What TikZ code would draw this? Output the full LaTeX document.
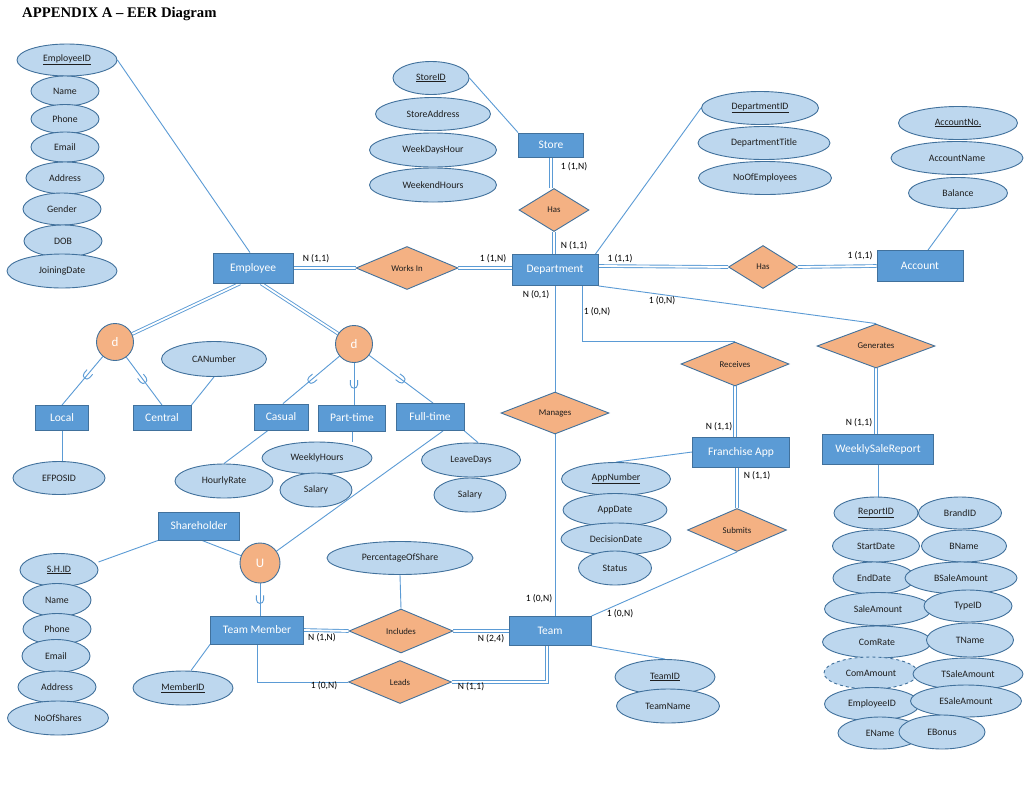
\documentclass[tikz,border=0pt]{standalone}
\usepackage{fontspec}
\setmainfont{Carlito}
\newfontfamily\titlefont{Liberation Serif}
\usetikzlibrary{shapes.geometric,backgrounds,calc}
\definecolor{entfill}{HTML}{5B9BD5}
\definecolor{entborder}{HTML}{41719C}
\definecolor{attrfill}{HTML}{BDD7EE}
\definecolor{attrborder}{HTML}{41719C}
\definecolor{relfill}{HTML}{F4B183}
\definecolor{relborder}{HTML}{41719C}
\definecolor{lineblue}{HTML}{5B9BD5}
\definecolor{textdark}{HTML}{1E1E1E}
\begin{document}
\begin{tikzpicture}[x=1pt,y=-1pt,
  ent/.style={rectangle, draw=entborder, line width=0.9pt, fill=entfill, text=white, inner sep=0, font=\fontsize{11.5}{12}\selectfont},
  attr/.style={ellipse, draw=attrborder, line width=0.9pt, fill=attrfill, text=textdark, inner sep=0, font=\fontsize{9.8}{10}\selectfont},
  rel/.style={diamond, draw=relborder, line width=0.9pt, fill=relfill, text=textdark, inner sep=0, font=\fontsize{8.8}{9}\selectfont},
  dcirc/.style={circle, draw=relborder, line width=0.9pt, fill=relfill, text=white, inner sep=0, font=\fontsize{13}{13}\selectfont},
  conn/.style={draw=lineblue, line width=0.9pt},
  dbl/.style={draw=lineblue, line width=0.9pt, double=white, double distance=1.8pt},
  card/.style={inner sep=0, text=black, font=\fontsize{9.6}{10}\selectfont},
  subsym/.pic={\draw[lineblue, line width=0.9pt] (-4.5,-3.6) -- (0,-3.6) .. controls (4.8,-3.6) and (4.8,3.6) .. (0,3.6) -- (-4.5,3.6);}
]
\useasboundingbox (0,0) rectangle (1034,788);

% title
\node[anchor=base west, inner sep=0, font=\titlefont\bfseries\fontsize{14.7}{15}\selectfont] (title) at (22,17) {APPENDIX A – EER Diagram};

% Employee attributes
\node[attr, minimum width=100, minimum height=32] (eid) at (67,60) {\underline{EmployeeID}};
\node[attr, minimum width=68, minimum height=30] (ename) at (65,91) {Name};
\node[attr, minimum width=68, minimum height=29] (ephone) at (65,119) {Phone};
\node[attr, minimum width=68, minimum height=30] (eemail) at (65,147) {Email};
\node[attr, minimum width=78, minimum height=32] (eaddr) at (65,178) {Address};
\node[attr, minimum width=78, minimum height=32] (egender) at (62,209) {Gender};
\node[attr, minimum width=78, minimum height=32] (edob) at (63,241) {DOB};
\node[attr, minimum width=110, minimum height=34] (ejoin) at (62,271) {JoiningDate};

% Store attributes
\node[attr, minimum width=76, minimum height=33] (storeid) at (431,78) {\underline{StoreID}};
\node[attr, minimum width=115, minimum height=33] (staddr) at (433,114) {StoreAddress};
\node[attr, minimum width=127, minimum height=34] (wdh) at (433,150) {WeekDaysHour};
\node[attr, minimum width=127, minimum height=34] (weh) at (433,185) {WeekendHours};

% Department attributes
\node[attr, minimum width=117, minimum height=33] (deptid) at (760,108) {\underline{DepartmentID}};
\node[attr, minimum width=132, minimum height=33] (dtitle) at (764,143) {DepartmentTitle};
\node[attr, minimum width=133, minimum height=33] (noe) at (765,178) {NoOfEmployees};

% Account attributes
\node[attr, minimum width=119, minimum height=33] (accno) at (958,123) {\underline{AccountNo.}};
\node[attr, minimum width=132, minimum height=33] (accname) at (957,158) {AccountName};
\node[attr, minimum width=99, minimum height=31] (bal) at (958,193) {Balance};

% Entities
\node[ent, minimum width=80, minimum height=30] (emp) at (253,268) {Employee};
\node[ent, minimum width=86, minimum height=31] (dept) at (555,270) {Department};
\node[ent, minimum width=65, minimum height=24] (store) at (551,145) {Store};
\node[ent, minimum width=86, minimum height=31] (acct) at (920,266) {Account};
\node[ent, minimum width=97, minimum height=30] (fa) at (741,452) {Franchise App};
\node[ent, minimum width=111, minimum height=30] (wsr) at (878,449) {WeeklySaleReport};
\node[ent, minimum width=53, minimum height=25] (local) at (62,418) {Local};
\node[ent, minimum width=58, minimum height=25] (central) at (162,418) {Central};
\node[ent, minimum width=54, minimum height=26] (casual) at (281,417) {Casual};
\node[ent, minimum width=67, minimum height=26] (pt) at (352,418) {Part-time};
\node[ent, minimum width=68, minimum height=27] (ft) at (430,417) {Full-time};
\node[ent, minimum width=81, minimum height=28] (sh) at (199,526) {Shareholder};
\node[ent, minimum width=93, minimum height=28] (tm) at (257,630) {Team Member};
\node[ent, minimum width=82, minimum height=29] (team) at (550,631) {Team};

% Relationships
\node[rel, minimum width=102, minimum height=43] (works) at (407,268) {Works In};
\node[rel, minimum width=70, minimum height=43] (hasS) at (554,210) {Has};
\node[rel, minimum width=69, minimum height=43] (hasA) at (763,267) {Has};
\node[rel, minimum width=108, minimum height=42] (man) at (555,413) {Manages};
\node[rel, minimum width=108, minimum height=44] (rec) at (735,364) {Receives};
\node[rel, minimum width=118, minimum height=44] (gen) at (876,346) {Generates};
\node[rel, minimum width=99, minimum height=43] (sub) at (737,530) {Submits};
\node[rel, minimum width=104, minimum height=44] (incl) at (401,631) {Includes};
\node[rel, minimum width=103, minimum height=43] (leads) at (400,682) {Leads};

% Specialisation circles
\node[dcirc, minimum size=37] (d1) at (115,342) {d};
\node[dcirc, minimum size=37] (d2) at (354,344) {d};
\node[dcirc, minimum size=40] (ucirc) at (260,563) {U};

% Subclass attributes
\node[attr, minimum width=105, minimum height=35] (canum) at (214,359) {CANumber};
\node[attr, minimum width=92, minimum height=33] (efpos) at (59,478) {EFPOSID};
\node[attr, minimum width=98, minimum height=34] (hourly) at (224,481) {HourlyRate};
\node[attr, minimum width=110, minimum height=32] (wh) at (317,458) {WeeklyHours};
\node[attr, minimum width=72, minimum height=34] (sal1) at (316,490) {Salary};
\node[attr, minimum width=99, minimum height=34] (leave) at (471,460) {LeaveDays};
\node[attr, minimum width=72, minimum height=34] (sal2) at (470,495) {Salary};

% Franchise App attributes
\node[attr, minimum width=109, minimum height=33] (appnum) at (616,479) {\underline{AppNumber}};
\node[attr, minimum width=104, minimum height=33] (appdate) at (615,510) {AppDate};
\node[attr, minimum width=110, minimum height=32] (decdate) at (616,539) {DecisionDate};
\node[attr, minimum width=73, minimum height=34] (status) at (615,568) {Status};

% Shareholder attributes
\node[attr, minimum width=78, minimum height=33] (shid) at (59,570) {\underline{S.H.ID}};
\node[attr, minimum width=68, minimum height=33] (shname) at (57,600) {Name};
\node[attr, minimum width=68, minimum height=31] (shphone) at (57,629) {Phone};
\node[attr, minimum width=68, minimum height=33] (shemail) at (56,656) {Email};
\node[attr, minimum width=78, minimum height=32] (shaddr) at (57,687) {Address};
\node[attr, minimum width=101, minimum height=34] (noshares) at (58,718) {NoOfShares};

% Team member / team attributes
\node[attr, minimum width=100, minimum height=34] (memid) at (183,688) {\underline{MemberID}};
\node[attr, minimum width=146, minimum height=33] (pos) at (400,558) {PercentageOfShare};
\node[attr, minimum width=100, minimum height=35] (teamid) at (665,677) {\underline{TeamID}};
\node[attr, minimum width=103, minimum height=34] (teamname) at (668,706) {TeamName};

% Weekly sale report attributes
\node[attr, minimum width=84, minimum height=32] (rid) at (876,513) {\underline{ReportID}};
\node[attr, minimum width=83, minimum height=32] (brand) at (960,513) {BrandID};
\node[attr, minimum width=87, minimum height=32] (start) at (876,546) {StartDate};
\node[attr, minimum width=85, minimum height=32] (bname) at (964,546) {BName};
\node[attr, minimum width=82, minimum height=32] (enddate) at (874,578) {EndDate};
\node[attr, minimum width=112, minimum height=32] (bsale) at (961,578) {BSaleAmount};
\node[attr, minimum width=107, minimum height=33] (saleamt) at (878,609) {SaleAmount};
\node[attr, minimum width=88, minimum height=32] (typeid) at (968,606) {TypeID};
\node[attr, minimum width=109, minimum height=32] (comrate) at (877,642) {ComRate};
\node[attr, minimum width=87, minimum height=34] (tname) at (970,640) {TName};
\node[attr, dashed, minimum width=94, minimum height=32] (comamt) at (871,673) {ComAmount};
\node[attr, minimum width=110, minimum height=32] (tsale) at (968,674) {TSaleAmount};
\node[attr, minimum width=95, minimum height=33] (empid2) at (872,704) {EmployeeID};
\node[attr, minimum width=111, minimum height=32] (esale) at (966,701) {ESaleAmount};
\node[attr, minimum width=84, minimum height=32] (ename2) at (880,733) {EName};
\node[attr, minimum width=86, minimum height=34] (ebonus) at (942,732) {EBonus};

% Cardinalities
\node[card] (c1) at (316,259) {N (1,1)};
\node[card] (c2) at (493,259) {1 (1,N)};
\node[card] (c3) at (574,167) {1 (1,N)};
\node[card] (c4) at (574,246) {N (1,1)};
\node[card] (c5) at (620,259) {1 (1,1)};
\node[card] (c6) at (860,256) {1 (1,1)};
\node[card] (c7) at (536,295) {N (0,1)};
\node[card] (c8) at (597,312) {1 (0,N)};
\node[card] (c9) at (662,301) {1 (0,N)};
\node[card] (c10) at (719,427) {N (1,1)};
\node[card] (c11) at (757,476) {N (1,1)};
\node[card] (c12) at (859,423) {N (1,1)};
\node[card] (c13) at (539,599) {1 (0,N)};
\node[card] (c14) at (620,614) {1 (0,N)};
\node[card] (c15) at (322,638) {N (1,N)};
\node[card] (c16) at (491,639) {N (2,4)};
\node[card] (c17) at (324,686) {1 (0,N)};
\node[card] (c18) at (471,687) {N (1,1)};

\begin{pgfonlayer}{background}
\fill[white] (0,0) rectangle (1034,788);
% attributes to entities
\draw[conn] (eid.east) -- ([xshift=-3]emp.north);
\draw[conn] (storeid.east) -- (store.north west);
\draw[conn] ([xshift=-3]dept.north east) -- (deptid.west);
\draw[conn] (bal.south) -- ([xshift=8]acct.north);
\draw[conn] (canum.south) -- (central.north east);
\draw[conn] (local.south) -- (local.south |- efpos.north);
\draw[conn] ([xshift=-13]casual.south) -- (hourly.north);
\draw[conn] (pt.south) -- (pt.south |- wh.north);
\draw[conn] (ft.south east) -- ([xshift=7]leave.north);
\draw[conn] (fa.west) -- (appnum.north);
\draw[conn] (wsr.south) -- (wsr.south |- rid.north);
\draw[conn] (sh.south west) -- ([yshift=8]shid.east);
\draw[conn] (tm.south west) -- ([xshift=8]memid.north);
\draw[conn] (pos.south) -- (incl.north);
\draw[conn] (team.south east) -- (teamid.north);
% relationships
\draw[dbl] (emp.east) -- (works.west);
\draw[dbl] (works.east) -- (works.east -| dept.west);
\draw[dbl] (store.south) -- (store.south |- hasS.north);
\draw[dbl] (hasS.south) -- (hasS.south |- dept.north);
\draw[dbl] ([yshift=4]dept.east) -- (hasA.west);
\draw[dbl] (hasA.east) -- (acct.west);
\draw[conn] (dept.south) -- (man.north);
\draw[conn] (man.south) -- (man.south |- team.north);
\draw[conn] ([xshift=27]dept.south) |- (rec.north);
\draw[conn] (dept.south east) -- (gen.north);
\draw[dbl] (rec.south) -- (rec.south |- fa.north);
\draw[dbl] (fa.south -| sub.north) -- (sub.north);
\draw[conn] (sub.south) -- (team.north east);
\draw[dbl] (gen.south) -- (gen.south |- wsr.north);
\draw[dbl] (tm.east) -- (incl.west);
\draw[dbl] (incl.east) -- (team.west);
\draw[conn] (tm.south) |- (leads.west);
\draw[dbl] (leads.east) -| ([xshift=-3]team.south);
% specialisation
\draw[dbl] ([xshift=-13]emp.south) -- (d1);
\draw[dbl] ([xshift=8]emp.south) -- (d2);
\draw[conn] (d1) -- (local.north);
\draw[conn] (d1) -- (central.north);
\draw[conn] (d2) -- ([xshift=2]casual.north);
\draw[conn] (d2) -- (d2 |- pt.north);
\draw[conn] (d2) -- ([xshift=3]ft.north);
\draw[conn] ([xshift=13]ft.south) -- (ucirc);
\draw[conn] ([xshift=3]sh.south) -- (ucirc);
\draw[conn] (ucirc.south) -- (ucirc.south |- tm.north);
\end{pgfonlayer}

% subset symbols
\path (d1.center) -- pic[pos=0.53, sloped, allow upside down]{subsym} (local.north);
\path (d1.center) -- pic[pos=0.6, sloped, allow upside down]{subsym} (central.north);
\path (d2.center) -- pic[pos=0.6, sloped, allow upside down]{subsym} ([xshift=2]casual.north);
\path (d2.center) -- pic[pos=0.67, sloped, allow upside down]{subsym} (d2 |- pt.north);
\path (d2.center) -- pic[pos=0.6, sloped, allow upside down]{subsym} ([xshift=3]ft.north);
\path (ucirc.center) -- pic[pos=0.7, sloped, allow upside down]{subsym} (ucirc.center |- tm.north);
\end{tikzpicture}
\end{document}
